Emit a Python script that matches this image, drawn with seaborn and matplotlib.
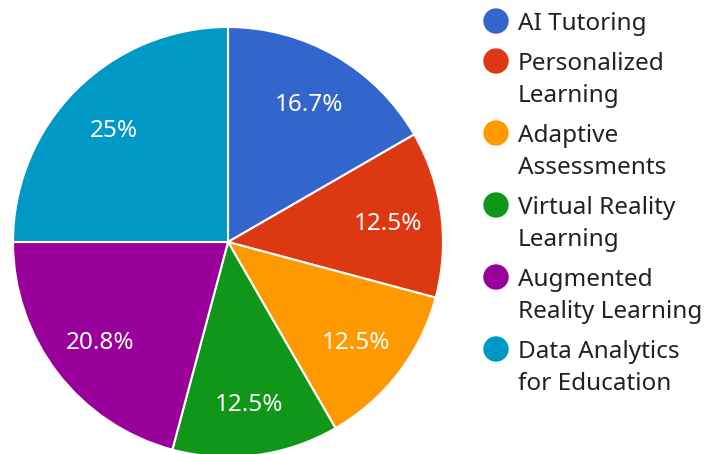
import matplotlib.pyplot as plt
from matplotlib.patches import Ellipse
import seaborn as sns

sns.set_theme(style="white")
plt.rcParams['font.family'] = ['Noto Sans', 'DejaVu Sans']

# Data
categories = ['AI Tutoring', 'Personalized Learning', 'Adaptive Assessments',
              'Virtual Reality Learning', 'Augmented Reality Learning',
              'Data Analytics for Education']
legend_labels = ['AI Tutoring', 'Personalized\nLearning', 'Adaptive\nAssessments',
                 'Virtual Reality\nLearning', 'Augmented\nReality Learning',
                 'Data Analytics\nfor Education']
values = [4, 3, 3, 3, 5, 6]
colors = ['#3366cc', '#dc3912', '#ff9900', '#109618', '#990099', '#0099c6']

W, H = 704, 454
fig = plt.figure(figsize=(W / 100, H / 100), dpi=100)

# pie placed by pixel geometry: centre (228, 242), radius 215
cx, cy, r = 228, 242, 215
ax = fig.add_axes([(cx - r) / W, (H - cy - r) / H, 2 * r / W, 2 * r / H])


def fmt(p):
    s = f"{p:.1f}"
    if s.endswith('.0'):
        s = s[:-2]
    return s + '%'


wedges, texts, autotexts = ax.pie(
    values, colors=colors, startangle=90, counterclock=False,
    autopct=fmt, pctdistance=0.75, radius=1,
    wedgeprops=dict(edgecolor='white', linewidth=1.5),
    textprops=dict(color='white', fontsize=17.5))
for t in autotexts:
    t.set_va('center_baseline')
ax.set_xlim(-1, 1)
ax.set_ylim(-1, 1)
ax.axis('off')

# Legend drawn manually (wrapped labels, Google-style spacing)
y = 21
for lab, col in zip(legend_labels, colors):
    fig.patches.append(Ellipse((496 / W, (H - y) / H), 24 / W, 24 / H,
                               transform=fig.transFigure, color=col,
                               figure=fig))
    lines = lab.split('\n')
    for i, line in enumerate(lines):
        fig.text(518 / W, (H - y - 32 * i) / H, line, fontsize=17.5,
                 color='#222222', va='center_baseline', ha='left')
    y += 32 * len(lines) + 8

fig.savefig('out.png', dpi=100)
